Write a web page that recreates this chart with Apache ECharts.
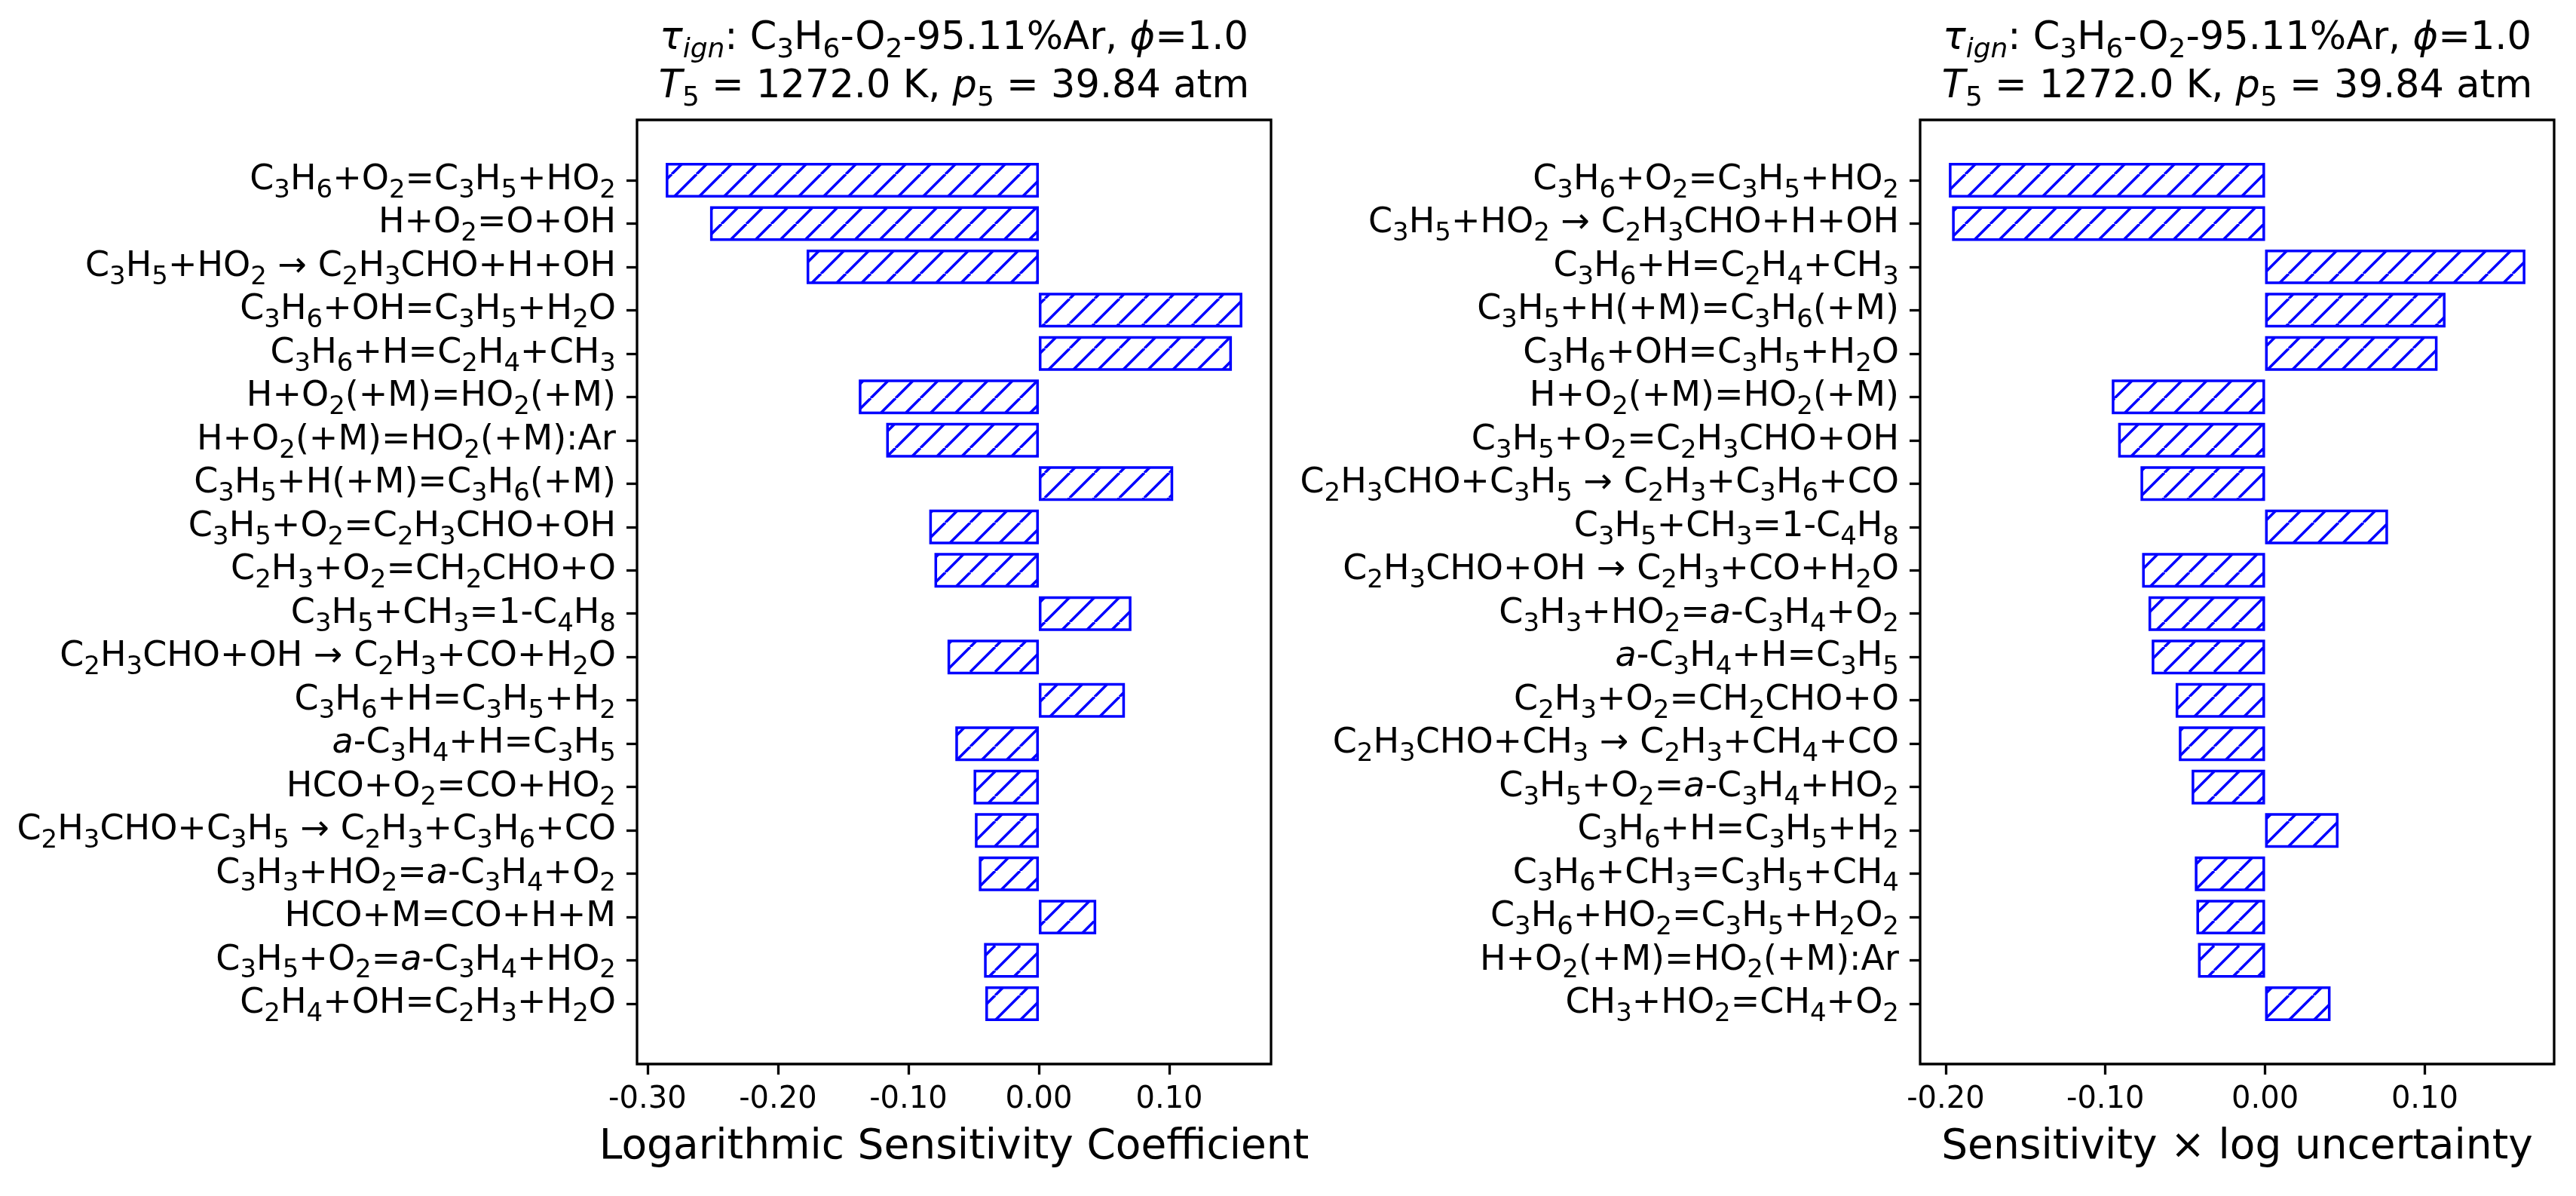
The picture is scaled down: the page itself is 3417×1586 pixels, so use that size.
<!DOCTYPE html>
<html>
<head>
<meta charset="utf-8">
<script src="https://cdn.jsdelivr.net/npm/echarts@6/dist/echarts.min.js"></script>
<style>
  html, body { margin: 0; padding: 0; background: #fff; }
  #chart { width: 3417px; height: 1586px; }
</style>
</head>
<body>
<div id="chart"></div>
<script>
// reaction names: "_3" = subscript, "*a*" = italic
var leftNames = [
  'C_3H_6+O_2=C_3H_5+HO_2',
  'H+O_2=O+OH',
  'C_3H_5+HO_2 → C_2H_3CHO+H+OH',
  'C_3H_6+OH=C_3H_5+H_2O',
  'C_3H_6+H=C_2H_4+CH_3',
  'H+O_2(+M)=HO_2(+M)',
  'H+O_2(+M)=HO_2(+M):Ar',
  'C_3H_5+H(+M)=C_3H_6(+M)',
  'C_3H_5+O_2=C_2H_3CHO+OH',
  'C_2H_3+O_2=CH_2CHO+O',
  'C_3H_5+CH_3=1-C_4H_8',
  'C_2H_3CHO+OH → C_2H_3+CO+H_2O',
  'C_3H_6+H=C_3H_5+H_2',
  '*a*-C_3H_4+H=C_3H_5',
  'HCO+O_2=CO+HO_2',
  'C_2H_3CHO+C_3H_5 → C_2H_3+C_3H_6+CO',
  'C_3H_3+HO_2=*a*-C_3H_4+O_2',
  'HCO+M=CO+H+M',
  'C_3H_5+O_2=*a*-C_3H_4+HO_2',
  'C_2H_4+OH=C_2H_3+H_2O'
];
var leftValues = [-0.286, -0.252, -0.178, 0.156, 0.148, -0.138, -0.117, 0.103, -0.084, -0.080,
  0.071, -0.070, 0.066, -0.064, -0.050, -0.049, -0.046, 0.044, -0.042, -0.041];

var rightNames = [
  'C_3H_6+O_2=C_3H_5+HO_2',
  'C_3H_5+HO_2 → C_2H_3CHO+H+OH',
  'C_3H_6+H=C_2H_4+CH_3',
  'C_3H_5+H(+M)=C_3H_6(+M)',
  'C_3H_6+OH=C_3H_5+H_2O',
  'H+O_2(+M)=HO_2(+M)',
  'C_3H_5+O_2=C_2H_3CHO+OH',
  'C_2H_3CHO+C_3H_5 → C_2H_3+C_3H_6+CO',
  'C_3H_5+CH_3=1-C_4H_8',
  'C_2H_3CHO+OH → C_2H_3+CO+H_2O',
  'C_3H_3+HO_2=*a*-C_3H_4+O_2',
  '*a*-C_3H_4+H=C_3H_5',
  'C_2H_3+O_2=CH_2CHO+O',
  'C_2H_3CHO+CH_3 → C_2H_3+CH_4+CO',
  'C_3H_5+O_2=*a*-C_3H_4+HO_2',
  'C_3H_6+H=C_3H_5+H_2',
  'C_3H_6+CH_3=C_3H_5+CH_4',
  'C_3H_6+HO_2=C_3H_5+H_2O_2',
  'H+O_2(+M)=HO_2(+M):Ar',
  'CH_3+HO_2=CH_4+O_2'
];
var rightValues = [-0.198, -0.196, 0.163, 0.113, 0.108, -0.096, -0.092, -0.078, 0.077, -0.077,
  -0.073, -0.071, -0.056, -0.054, -0.046, 0.046, -0.044, -0.043, -0.042, 0.041];

var leftTicks = [-0.3, -0.2, -0.1, 0, 0.1];
var rightTicks = [-0.2, -0.1, 0, 0.1];

var titleText = '{i|τ}{is|ign}: C{s|3}H{s|6}-O{s|2}-95.11%Ar, {i|ϕ}=1.0\n' +
  '{i|T}{s|5} = 1272.0 K, {i|p}{s|5} = 39.84 atm';

var FONT = 'DejaVu Sans';
var BLUE = '#0000ff';

function toRich(s) {
  return s.replace(/_(\w)/g, '{s|$1}').replace(/\*(\w+)\*/g, '{i|$1}');
}

// hatch '///'
function makeHatch() {
  var n = 33;
  var c = document.createElement('canvas');
  c.width = n; c.height = n;
  var g = c.getContext('2d');
  g.strokeStyle = BLUE;
  g.lineWidth = 3.5;
  for (var k = -1; k <= 1; k++) {
    g.beginPath();
    g.moveTo(k * n, n);
    g.lineTo(k * n + n, 0);
    g.stroke();
  }
  return c;
}
var hatch = makeHatch();

var boxTop = 159, boxH = 1252, boxW = 841;
var band = boxH / 21.78;
var innerTop = boxTop + 0.89 * band, innerH = 20 * band;

var chart = echarts.init(document.getElementById('chart'));

function titleOpt(cx) {
  return {
    text: titleText,
    left: cx, top: 20, textAlign: 'center', padding: 0,
    textStyle: {
      fontFamily: FONT, fontSize: 51, lineHeight: 64, fontWeight: 'normal', color: '#000',
      rich: {
        i: { fontFamily: FONT, fontSize: 51, lineHeight: 64, fontStyle: 'italic', color: '#000' },
        s: { fontFamily: FONT, fontSize: 36, lineHeight: 34, padding: [30, 0, 0, 0], color: '#000' },
        is: { fontFamily: FONT, fontSize: 36, lineHeight: 34, padding: [30, 0, 0, 0], fontStyle: 'italic', color: '#000' }
      }
    }
  };
}

function outerX(grid, min, max, ticks, name) {
  return {
    gridIndex: grid, type: 'value', min: min, max: max,
    axisLine: { show: false, onZero: false },
    splitLine: { show: false },
    axisTick: { show: true, customValues: ticks, length: 14, lineStyle: { color: '#000', width: 3.3 } },
    axisLabel: {
      customValues: ticks, margin: 28, fontFamily: FONT, fontSize: 40, lineHeight: 40, color: '#000',
      formatter: function (v) { return v.toFixed(2); }
    },
    name: name, nameLocation: 'middle', nameGap: 83,
    nameTextStyle: { fontFamily: FONT, fontSize: 55, lineHeight: 55, color: '#000' }
  };
}

function innerX(grid, min, max) {
  return { gridIndex: grid, type: 'value', min: min, max: max, show: false, splitLine: { show: false } };
}

function catY(grid, names) {
  return {
    gridIndex: grid, type: 'category', inverse: true, data: names,
    axisLine: { show: false, onZero: false },
    axisTick: { show: true, alignWithLabel: true, length: 14, lineStyle: { color: '#000', width: 3.3 } },
    axisLabel: {
      interval: 0, margin: 28, fontFamily: FONT, fontSize: 46, lineHeight: 62, color: '#000',
      formatter: function (v) { return toRich(v); },
      rich: {
        s: { fontFamily: FONT, fontSize: 34, lineHeight: 34, padding: [28, 0, 0, 0], color: '#000' },
        i: { fontFamily: FONT, fontSize: 46, lineHeight: 62, fontStyle: 'italic', color: '#000' }
      }
    }
  };
}

function bars(axis, values) {
  return {
    type: 'bar', xAxisIndex: axis, yAxisIndex: axis, data: values,
    barWidth: '80%',
    itemStyle: { color: { image: hatch, repeat: 'repeat' }, borderColor: BLUE, borderWidth: 3.5 },
    emphasis: { disabled: true }
  };
}

var option = {
  animation: false,
  backgroundColor: '#fff',
  title: [titleOpt(845 + boxW / 2), titleOpt(2547 + boxW / 2)],
  grid: [
    { left: 845, top: boxTop, width: boxW, height: boxH, show: true, borderColor: '#000', borderWidth: 3.3 },
    { left: 845, top: innerTop, width: boxW, height: innerH },
    { left: 2547, top: boxTop, width: boxW, height: boxH, show: true, borderColor: '#000', borderWidth: 3.3 },
    { left: 2547, top: innerTop, width: boxW, height: innerH }
  ],
  xAxis: [
    outerX(0, -0.308, 0.178, leftTicks, 'Logarithmic Sensitivity Coefficient'),
    innerX(1, -0.308, 0.178),
    outerX(2, -0.216, 0.181, rightTicks, 'Sensitivity × log uncertainty'),
    innerX(3, -0.216, 0.181)
  ],
  yAxis: [
    { gridIndex: 0, type: 'value', show: false, splitLine: { show: false } },
    catY(1, leftNames),
    { gridIndex: 2, type: 'value', show: false, splitLine: { show: false } },
    catY(3, rightNames)
  ],
  series: [bars(1, leftValues), bars(3, rightValues)]
};

chart.setOption(option);
</script>
</body>
</html>
